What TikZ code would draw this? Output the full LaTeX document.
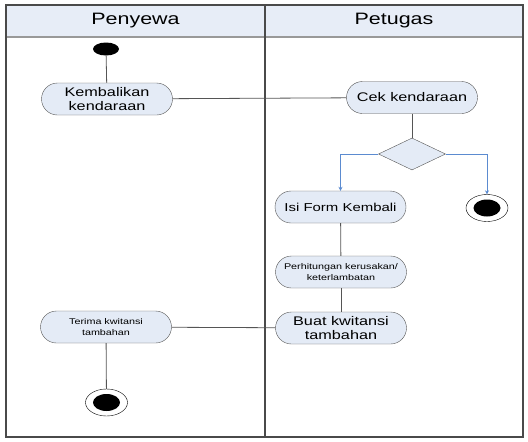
\documentclass[tikz,border=0pt]{standalone}
\usepackage{fontspec}
\newfontfamily\umlfont[FakeStretch=1.3]{Liberation Sans}
\usetikzlibrary{shapes.geometric,arrows.meta}
\definecolor{lanefill}{HTML}{E7EDF7}
\definecolor{actfill}{HTML}{E4EBF6}
\definecolor{lineg}{HTML}{555555}
\definecolor{frameg}{HTML}{4A4A4A}
\definecolor{flowblue}{HTML}{5B8BD0}
\begin{document}
\begin{tikzpicture}[x=1pt,y=-1pt,inner sep=0.7mm,
  act/.style={rectangle,rounded corners=16pt,draw=lineg,fill=actfill,minimum width=131pt,minimum height=32pt,align=center,font=\umlfont\fontsize{12.5}{13.5}\selectfont},
  actsmall/.style={act,font=\umlfont\fontsize{8.3}{10.5}\selectfont},
  initnode/.style={ellipse,fill=black,minimum width=26pt,minimum height=13pt,inner sep=0pt},
  endnode/.style={ellipse,draw=black,fill=white,minimum width=42pt,minimum height=27pt,inner sep=0pt,
    path picture={\fill[black] (path picture bounding box.center) ellipse (13.5pt and 8.5pt);}},
  decision/.style={diamond,draw=lineg,fill=actfill,minimum width=67pt,minimum height=32pt,inner sep=0pt},
  lanetitle/.style={font=\umlfont\fontsize{16.5}{18}\selectfont}]
\useasboundingbox (0,0) rectangle (528,442);
\fill[lanefill] (6,5) rectangle (523,37);
\draw[gray!80,line width=1.5pt] (6,37) -- (523,37);
\draw[frameg,line width=1.2pt] (6,5) rectangle (523,437);
\draw[frameg,line width=1.5pt] (265,5) -- (265,437);
\node (penyewa) at (135.5,21) [lanetitle] {Penyewa};
\node (petugas) at (394,21) [lanetitle] {Petugas};
\node (start) at (106,49) [initnode] {};
\node (kembali) at (107,99) [act] {Kembalikan\\kendaraan};
\node (cek) at (412,97.5) [act] {Cek kendaraan};
\node (dec) at (412,154) [decision] {};
\node (isi) at (340.5,207) [act,font=\umlfont\fontsize{11.5}{13}\selectfont] {Isi Form Kembali};
\node (endR) at (487,208) [endnode] {};
\node (hitung) at (341,272) [actsmall] {Perhitungan kerusakan/\\keterlambatan};
\node (buat) at (341,328) [act] {Buat kwitansi\\tambahan};
\node (terima) at (106,327) [actsmall] {Terima kwitansi\\tambahan};
\node (endL) at (106.5,402.5) [endnode] {};
\draw[lineg,line width=0.8pt] (start) -- (kembali);
\draw[lineg,line width=0.8pt] (kembali) -- (cek);
\draw[lineg,line width=0.8pt] (cek) -- (dec);
\draw[flowblue,line width=0.8pt,-{Stealth[length=4pt,width=4pt]}] (dec.west) -| (isi.north);
\draw[flowblue,line width=0.8pt,-{Stealth[length=4pt,width=4pt]}] (dec.east) -| (endR.north);
\draw[lineg,line width=0.8pt] (isi) -- (hitung);
\draw[lineg,line width=0.8pt] (hitung) -- (buat);
\draw[lineg,line width=0.8pt] (terima) -- (buat);
\draw[lineg,line width=0.8pt] (terima) -- (endL);
\end{tikzpicture}
\end{document}
